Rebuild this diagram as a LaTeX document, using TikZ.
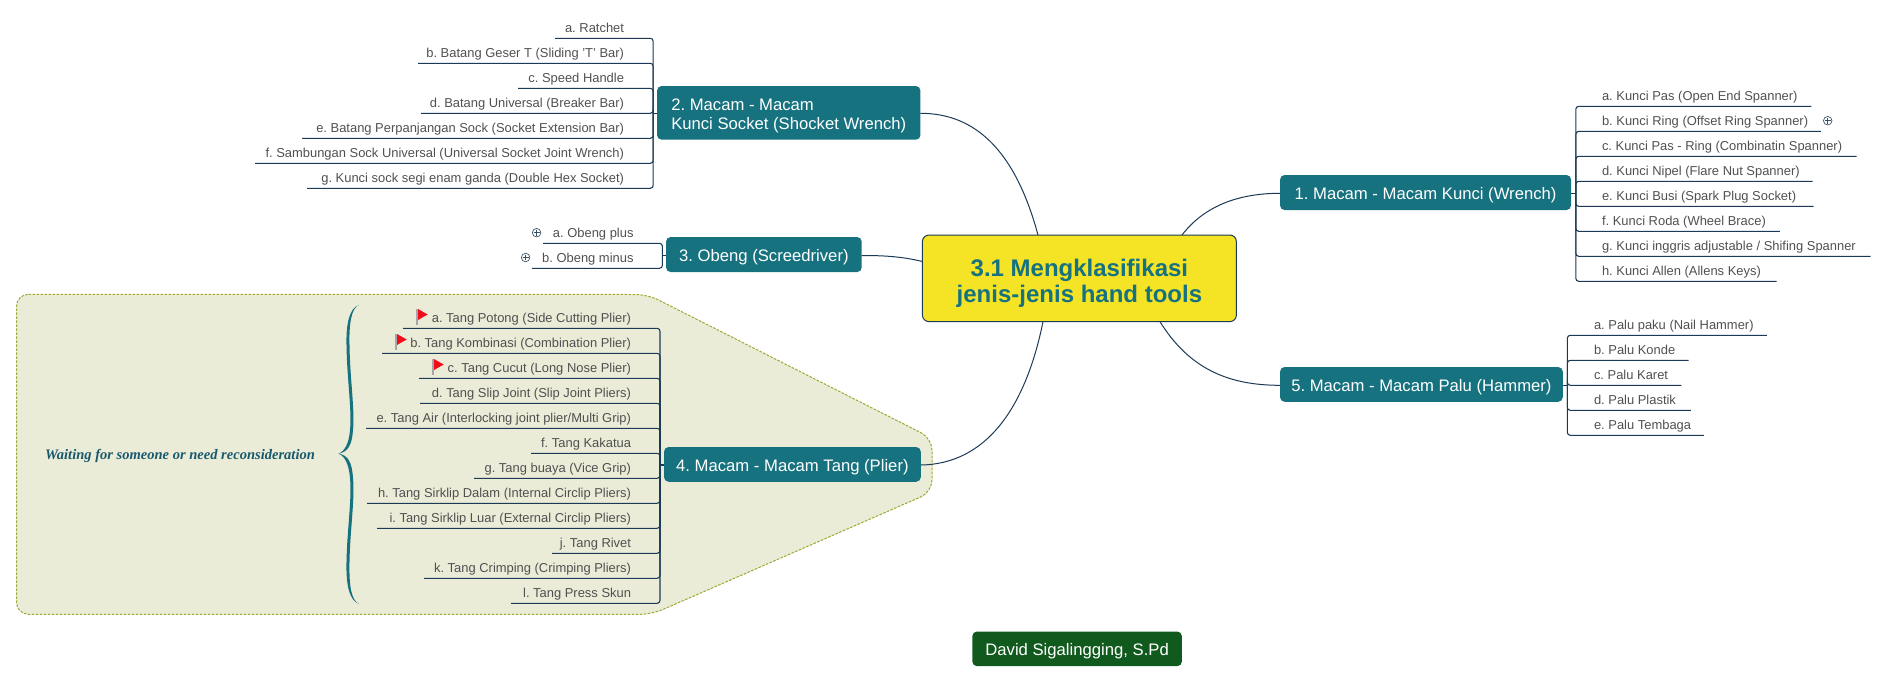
\documentclass[tikz,border=0pt]{standalone}
\usepackage{fontspec}
\setmainfont{Liberation Sans}
\newfontfamily\scriptish{Liberation Serif}
\frenchspacing
\definecolor{teal1}{HTML}{17727F}
\definecolor{navy}{HTML}{1B3A57}
\definecolor{leaftxt}{HTML}{505050}
\definecolor{yel}{HTML}{F5E326}
\definecolor{grp}{HTML}{EBECD8}
\definecolor{grpb}{HTML}{A0A832}
\definecolor{dgreen}{HTML}{115A1E}
\definecolor{flagr}{HTML}{F20D1B}
\tikzset{
  every node/.style={inner sep=0pt,outer sep=0pt},
  leaf/.style={text=leaftxt,font=\fontsize{9.7}{11}\selectfont},
  conn/.style={draw=navy,line width=0.8pt,rounded corners=2.2pt},
  curve/.style={draw=navy,line width=0.75pt},
  topic/.style={rectangle,rounded corners=3.5pt,fill=teal1,text=white,align=left,font=\fontsize{12.5}{14}\selectfont},
  topicone/.style={topic,align=center,text height=12.7pt,text depth=2pt},
  plusmark/.style={circle,draw=navy!70!gray,line width=0.5pt,minimum size=6.4pt,
    path picture={\draw[navy!70!gray,line width=0.5pt] ([xshift=1pt]path picture bounding box.west)--([xshift=-1pt]path picture bounding box.east) ([yshift=-1pt]path picture bounding box.north)--([yshift=1pt]path picture bounding box.south);}},
}
\newcommand\flagicon[2]{%
  \fill[gray!70] (#1,#2) rectangle ++(2,16);
  \fill[flagr] (#1+2,#2) -- ++(9.7,5.5) -- ++(-9.7,5.5) -- cycle;}
\begin{document}
\begin{tikzpicture}[x=0.75pt,y=-0.75pt]
\useasboundingbox (0,0) rectangle (1887,682);
% group boundary
\path[fill=grp,draw=grpb,line width=0.75pt,dashed,dash pattern=on 2pt off 1pt,rounded corners=9pt]
  (16.5,294.3) -- (647.7,294.5) -- (932,438.3) -- (932,492) -- (651.9,614.3) -- (16.5,614.3) -- cycle;
% main topics
\node[draw=navy,line width=0.75pt,rectangle,rounded corners=5pt,fill=yel,minimum width=235.5pt,minimum height=65pt,anchor=north west,text=teal1,align=center,
  font=\bfseries\fontsize{18}{19.7}\selectfont] (root) at (922.4,235) {\rule{0pt}{20pt}3.1 Mengklasifikasi\\jenis-jenis hand tools};
\node[topicone,anchor=north west,minimum width=218.3pt,minimum height=26.3pt] (n1) at (1280,175) {1. Macam - Macam Kunci (Wrench)};
\node[topic,anchor=north west,minimum width=197.6pt,minimum height=40.3pt] (n2) at (657,86) {\rule{0pt}{12.8pt}2. Macam - Macam\\Kunci Socket (Shocket Wrench)};
\node[topicone,anchor=north west,minimum width=146.8pt,minimum height=26.3pt] (n3) at (666,237) {3. Obeng (Screedriver)};
\node[topicone,anchor=north west,minimum width=192.6pt,minimum height=26.1pt] (n4) at (664,447) {4. Macam - Macam Tang (Plier)};
\node[topicone,anchor=north west,minimum width=212.1pt,minimum height=26.1pt] (n5) at (1280,367) {5. Macam - Macam Palu (Hammer)};
\node[topicone,anchor=north west,fill=dgreen,minimum width=157.2pt,minimum height=26pt] (foot) at (972.3,631.5) {David Sigalingging, S.Pd};
% curves
\draw[curve] (root.north west -| 1182,0) .. controls (1205,205) and (1240,193.3) .. (n1.west |- 0,193.3);
\draw[curve] (1038,235) .. controls (1015,150) and (975,113.3) .. (n2.east |- 0,113.3);
\draw[curve] (root.west |- 0,261.5) .. controls (900,256) and (880,255.5) .. (n3.east |- 0,255.5);
\draw[curve] (1043,321.7) .. controls (1025,410) and (985,464) .. (n4.east |- 0,465);
\draw[curve] (1160,321.7) .. controls (1190,370) and (1230,385.3) .. (n5.west |- 0,385.3);
% hubs
\coordinate (h1) at (1575.8,193.3);
\coordinate (h2) at (653.2,113.3);
\coordinate (h3) at (662.4,255.5);
\coordinate (h4) at (660,465);
\coordinate (h5) at (1567.3,385.3);
\draw[conn] (n1.east |- h1) -- (h1);
\draw[conn] (n2.west |- h2) -- (h2);
\draw[conn] (n3.west |- h3) -- (h3);
\draw[conn] (n4.west |- h4) -- (h4);
\draw[conn] (n5.east |- h5) -- (h5);
% leaves of 1
\foreach \t/\e [count=\i from 0] in {
 {a. Kunci Pas (Open End Spanner)}/1811.4,
 {b. Kunci Ring (Offset Ring Spanner)}/1820.8,
 {c. Kunci Pas - Ring (Combinatin Spanner)}/1856.5,
 {d. Kunci Nipel (Flare Nut Spanner)}/1812.7,
 {e. Kunci Busi (Spark Plug Socket)}/1813.5,
 {f. Kunci Roda (Wheel Brace)}/1779.8,
 {g. Kunci inggris adjustable / Shifing Spanner}/1870.7,
 {h. Kunci Allen (Allens Keys)}/1776.5}{
  \pgfmathsetmacro\yy{106.3+25*\i}
  \node[leaf,anchor=base west] (a\i) at (1602,\yy-6) {\t};
  \coordinate (ae\i) at (\e,\yy);
  \draw[conn] (h1) |- (ae\i);
}
% leaves of 5
\foreach \t/\e [count=\i from 0] in {
 {a. Palu paku (Nail Hammer)}/1766.8,
 {b. Palu Konde}/1688.7,
 {c. Palu Karet}/1681.4,
 {d. Palu Plastik}/1690.8,
 {e. Palu Tembaga}/1703.8}{
  \pgfmathsetmacro\yy{335.3+25*\i}
  \node[leaf,anchor=base west] (e\i) at (1594,\yy-6) {\t};
  \coordinate (ee\i) at (\e,\yy);
  \draw[conn] (h5) |- (ee\i);
}
% leaves of 2
\foreach \t/\e [count=\i from 0] in {
 {a. Ratchet}/555,
 {b. Batang Geser T (Sliding 'T' Bar)}/418,
 {c. Speed Handle}/518,
 {d. Batang Universal (Breaker Bar)}/421,
 {e. Batang Perpanjangan Sock (Socket Extension Bar)}/302,
 {f. Sambungan Sock Universal (Universal Socket Joint Wrench)}/255,
 {g. Kunci sock segi enam ganda (Double Hex Socket)}/307}{
  \pgfmathsetmacro\yy{38.3+25*\i}
  \node[leaf,anchor=base east] (b\i) at (624,\yy-6) {\t};
  \coordinate (be\i) at (\e,\yy);
  \draw[conn] (h2) |- (be\i);
}
% leaves of 3
\foreach \t/\e [count=\i from 0] in {
 {a. Obeng plus}/543,
 {b. Obeng minus}/532}{
  \pgfmathsetmacro\yy{243.3+25*\i}
  \node[leaf,anchor=base east] (c\i) at (633.5,\yy-6) {\t};
  \coordinate (ce\i) at (\e,\yy);
  \draw[conn] (h3) |- (ce\i);
}
% leaves of 4
\foreach \t/\e [count=\i from 0] in {
 {a. Tang Potong (Side Cutting Plier)}/403,
 {b. Tang Kombinasi (Combination Plier)}/382,
 {c. Tang Cucut (Long Nose Plier)}/419,
 {d. Tang Slip Joint (Slip Joint Pliers)}/420,
 {e. Tang Air (Interlocking joint plier/Multi Grip)}/366,
 {f. Tang Kakatua}/531,
 {g. Tang buaya (Vice Grip)}/474,
 {h. Tang Sirklip Dalam (Internal Circlip Pliers)}/367,
 {i. Tang Sirklip Luar (External Circlip Pliers)}/377,
 {j. Tang Rivet}/552,
 {k. Tang Crimping (Crimping Pliers)}/424,
 {l. Tang Press Skun}/511}{
  \pgfmathsetmacro\yy{328.3+25*\i}
  \node[leaf,anchor=base east] (d\i) at (631,\yy-6) {\t};
  \coordinate (de\i) at (\e,\yy);
  \draw[conn] (h4) |- (de\i);
}
% collapse marks
\node[plusmark] (p1) at (1827.7,120.7) {};
\node[plusmark] (p2) at (536.6,232.7) {};
\node[plusmark] (p3) at (525.6,257.5) {};
% flags
\flagicon{416}{309}
\flagicon{395}{334}
\flagicon{432}{359}
% brace
\fill[teal1] (359,305) .. controls (349,308) and (346,325) .. (346.5,345)
 .. controls (347,380) and (352,410) .. (350,430)
 .. controls (349,443) and (345,451) .. (338.5,453.7)
 .. controls (345,456) and (349,465) .. (350,478)
 .. controls (352,500) and (347,530) .. (346.5,562)
 .. controls (346,585) and (349,600) .. (359,604)
 .. controls (351,600) and (349,585) .. (349.5,562)
 .. controls (350,530) and (355,500) .. (353,478)
 .. controls (352,462) and (348,455) .. (338.5,453.7)
 .. controls (348,452) and (352,445) .. (353,430)
 .. controls (355,410) and (350,380) .. (349.5,345)
 .. controls (349,325) and (351,308) .. (359,305) -- cycle;
\node[text=teal1!55!navy,anchor=center,font=\scriptish\bfseries\itshape\fontsize{10.9}{14}\selectfont] (lbl) at (180,456) {Waiting for someone or need reconsideration};
\end{tikzpicture}
\end{document}
